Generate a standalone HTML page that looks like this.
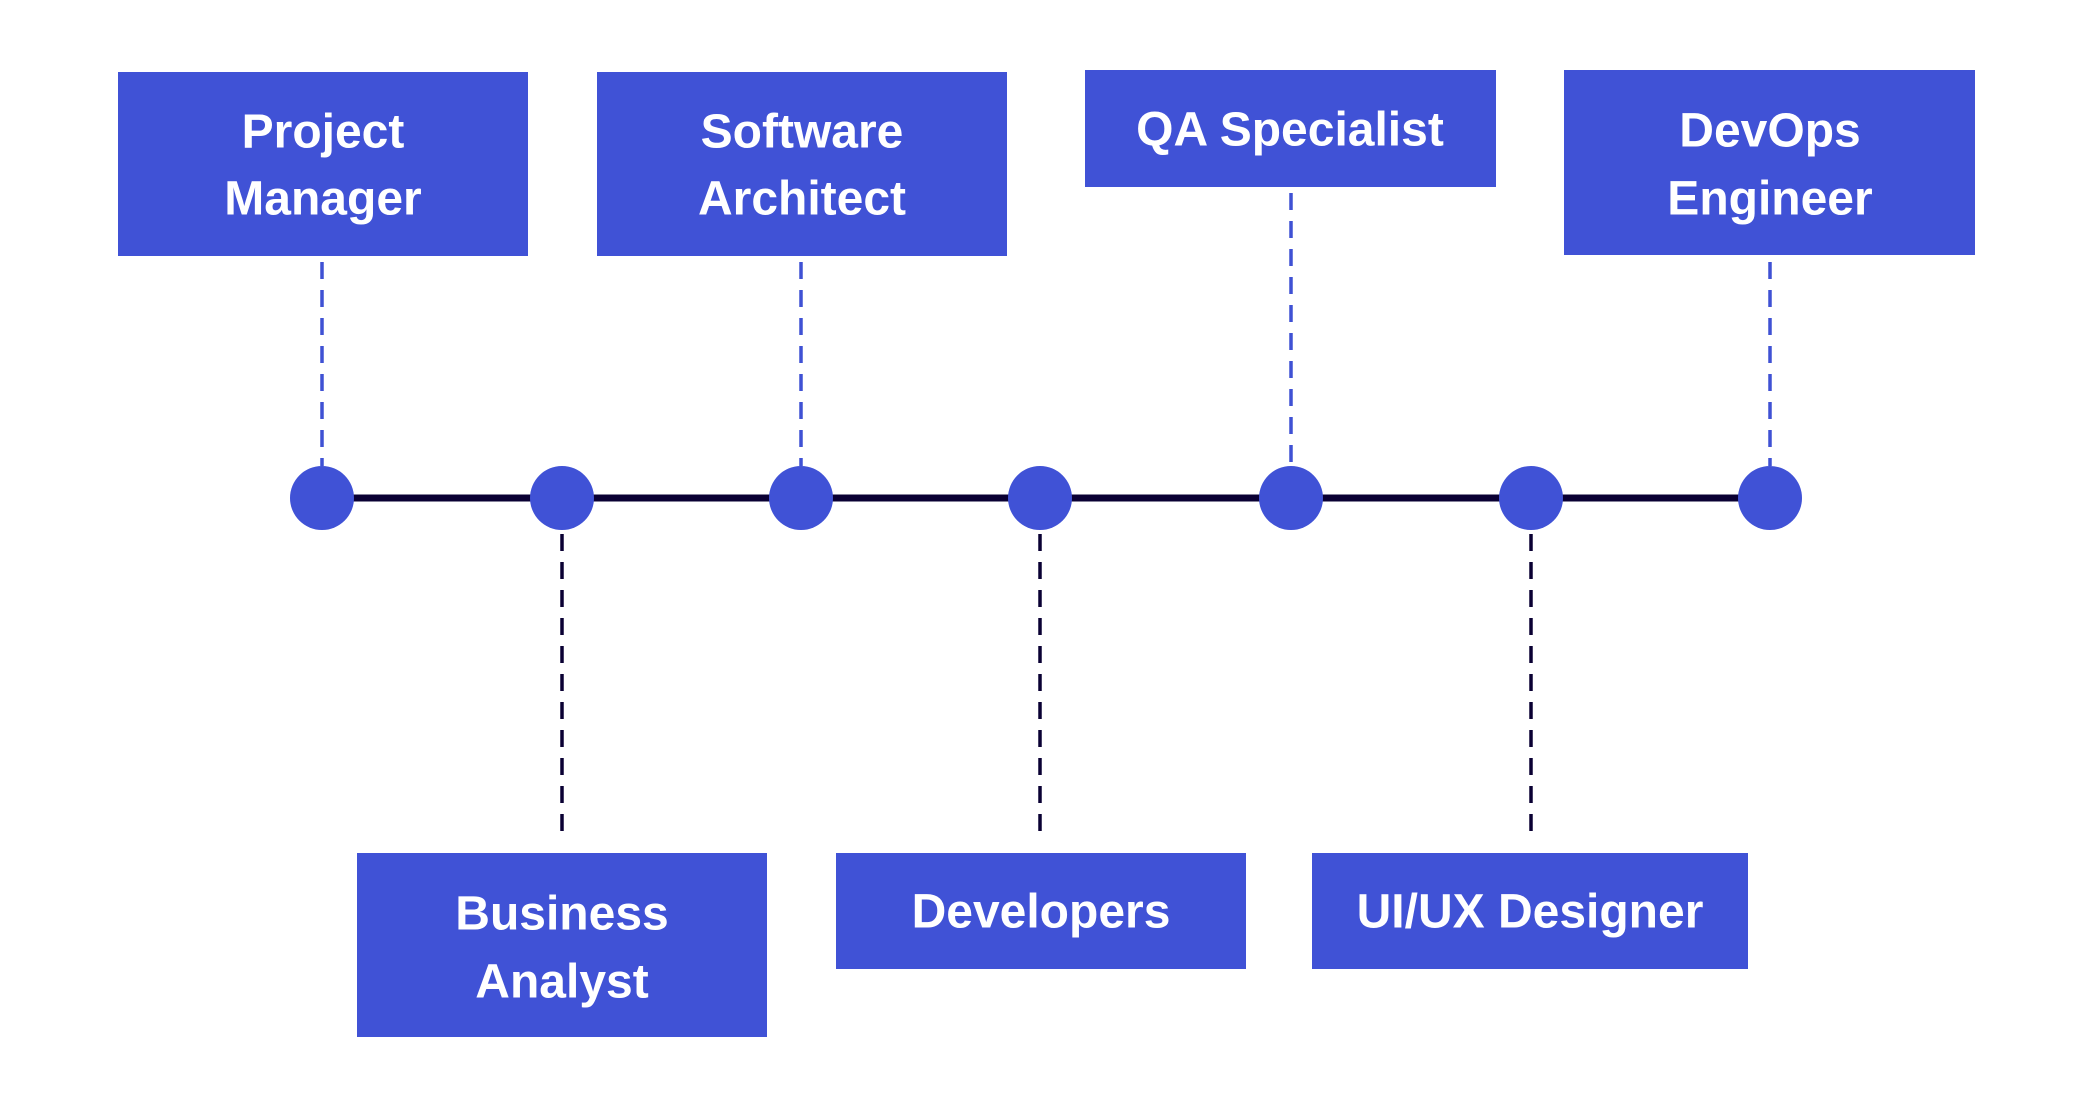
<!DOCTYPE html>
<html><head><meta charset="utf-8"><style>
html,body{margin:0;padding:0;background:#fff;}
svg{display:block;}
text{font-family:"Liberation Sans",sans-serif;font-weight:bold;font-size:48px;fill:#fff;text-anchor:middle;dominant-baseline:central;}
</style></head><body>
<svg width="2080" height="1100" viewBox="0 0 2080 1100" xmlns="http://www.w3.org/2000/svg">
<rect width="2080" height="1100" fill="#fff"/>
<g stroke="#3f51d4" stroke-width="3.5" stroke-dasharray="17,11">
<line x1="322" y1="262" x2="322" y2="466"/>
<line x1="801" y1="262" x2="801" y2="466"/>
<line x1="1291" y1="193" x2="1291" y2="466"/>
<line x1="1770" y1="262" x2="1770" y2="466"/>
</g>
<g stroke="#0a0033" stroke-width="3.5" stroke-dasharray="17,11">
<line x1="562" y1="534" x2="562" y2="838"/>
<line x1="1040" y1="534" x2="1040" y2="833"/>
<line x1="1531" y1="534" x2="1531" y2="833"/>
</g>
<line x1="322" y1="498" x2="1770" y2="498" stroke="#0a0033" stroke-width="7"/>
<g fill="#4052d6">
<circle cx="322" cy="498" r="32"/><circle cx="562" cy="498" r="32"/><circle cx="801" cy="498" r="32"/>
<circle cx="1040" cy="498" r="32"/><circle cx="1291" cy="498" r="32"/><circle cx="1531" cy="498" r="32"/>
<circle cx="1770" cy="498" r="32"/>
<rect x="118" y="72" width="410" height="184"/>
<rect x="597" y="72" width="410" height="184"/>
<rect x="1085" y="70" width="411" height="117"/>
<rect x="1564" y="70" width="411" height="185"/>
<rect x="357" y="853" width="410" height="184"/>
<rect x="836" y="853" width="410" height="116"/>
<rect x="1312" y="853" width="436" height="116"/>
</g>
<text x="323" y="132">Project</text><text x="323" y="199">Manager</text>
<text x="802" y="132">Software</text><text x="802" y="199">Architect</text>
<text x="1290" y="130">QA Specialist</text>
<text x="1770" y="131">DevOps</text><text x="1770" y="199">Engineer</text>
<text x="562" y="914">Business</text><text x="562" y="982">Analyst</text>
<text x="1041" y="912">Developers</text>
<text x="1530" y="912">UI/UX Designer</text>
</svg>
</body></html>
